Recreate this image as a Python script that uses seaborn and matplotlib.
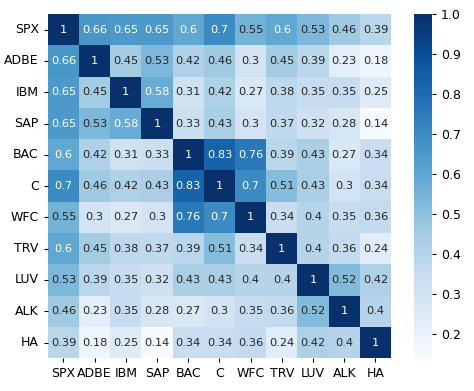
import numpy as np
import pandas as pd
import matplotlib
matplotlib.use("Agg")
import matplotlib.pyplot as plt
import seaborn as sns

tickers = ["SPX", "ADBE", "IBM", "SAP", "BAC", "C", "WFC", "TRV", "LUV", "ALK", "HA"]

row_spx = [1, 0.66, 0.65, 0.65, 0.6, 0.7, 0.55, 0.6, 0.53, 0.46, 0.39]
row_adbe = [0.66, 1, 0.45, 0.53, 0.42, 0.46, 0.3, 0.45, 0.39, 0.23, 0.18]
row_ibm = [0.65, 0.45, 1, 0.58, 0.31, 0.42, 0.27, 0.38, 0.35, 0.35, 0.25]
row_sap = [0.65, 0.53, 0.58, 1, 0.33, 0.43, 0.3, 0.37, 0.32, 0.28, 0.14]
row_bac = [0.6, 0.42, 0.31, 0.33, 1, 0.83, 0.76, 0.39, 0.43, 0.27, 0.34]
row_c = [0.7, 0.46, 0.42, 0.43, 0.83, 1, 0.7, 0.51, 0.43, 0.3, 0.34]
row_wfc = [0.55, 0.3, 0.27, 0.3, 0.76, 0.7, 1, 0.34, 0.4, 0.35, 0.36]
row_trv = [0.6, 0.45, 0.38, 0.37, 0.39, 0.51, 0.34, 1, 0.4, 0.36, 0.24]
row_luv = [0.53, 0.39, 0.35, 0.32, 0.43, 0.43, 0.4, 0.4, 1, 0.52, 0.42]
row_alk = [0.46, 0.23, 0.35, 0.28, 0.27, 0.3, 0.35, 0.36, 0.52, 1, 0.4]
row_ha = [0.39, 0.18, 0.25, 0.14, 0.34, 0.34, 0.36, 0.24, 0.42, 0.4, 1]

rows = [row_spx, row_adbe, row_ibm, row_sap, row_bac, row_c, row_wfc,
        row_trv, row_luv, row_alk, row_ha]
corr = pd.DataFrame(rows, index=tickers, columns=tickers)

fig = plt.figure(figsize=(4.74, 3.91), dpi=100)
ax = fig.add_axes([0.101, 0.084, 0.724, 0.880])
cax = fig.add_axes([0.873, 0.084, 0.038, 0.880])

sns.heatmap(corr, ax=ax, cbar_ax=cax, cmap="Blues", annot=True,
            annot_kws={"size": 8.2})

ax.tick_params(axis="both", labelsize=9, length=3)
ax.set_yticklabels(ax.get_yticklabels(), rotation=0)
ax.set_xticklabels(ax.get_xticklabels(), rotation=0)
cax.tick_params(labelsize=9, length=3)
cax.set_yticks([0.2, 0.3, 0.4, 0.5, 0.6, 0.7, 0.8, 0.9, 1.0])

fig.savefig("out.png", dpi=100)
